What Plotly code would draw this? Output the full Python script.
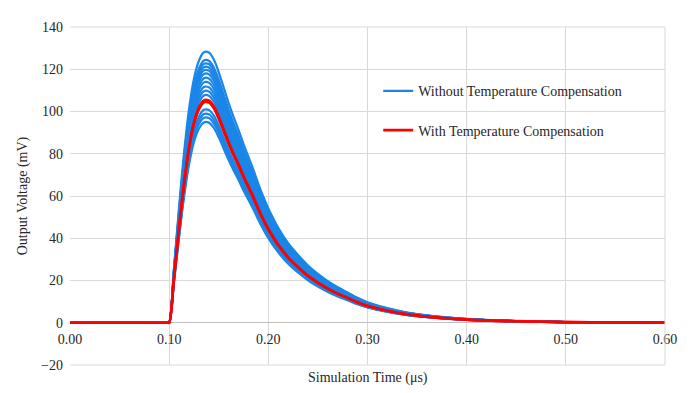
import plotly.graph_objects as go

# Time axis (µs)
time_us = [0.000, 0.099, 0.100, 0.105, 0.110, 0.115, 0.120, 0.125, 0.130, 0.135, 0.140,
           0.145, 0.150, 0.155, 0.160, 0.165, 0.170, 0.175, 0.180, 0.185, 0.190,
           0.195, 0.200, 0.210, 0.220, 0.230, 0.240, 0.250, 0.260, 0.270, 0.280,
           0.290, 0.300, 0.320, 0.340, 0.360, 0.380, 0.400, 0.450, 0.500, 0.550, 0.600]

# Pulse read from the compensated (red) curve, peak ~105.5 mV
reference_pulse = [0.0, 0.0, 0.0, 22.0, 45.0, 66.0, 83.0, 95.0, 102.0, 105.3, 105.2,
                   102.5, 97.5, 91.5, 85.5, 80.0, 75.0, 69.5, 64.5, 59.5, 54.0,
                   49.0, 44.5, 37.0, 31.0, 26.4, 22.3, 19.0, 16.2, 13.8, 11.8,
                   9.7, 8.0, 5.7, 4.0, 2.9, 2.1, 1.5, 0.7, 0.3, 0.12, 0.05]
reference_peak = 105.5

# Peak amplitudes (mV)
blue_peaks = [128.3, 124.4, 122.8, 121.2, 119.7, 118.0, 116.0, 114.0, 111.8,
              109.8, 107.8, 104.5, 101.0, 99.0, 97.2, 95.0]
red_peaks = [105.5, 104.6]

legend_names = ["Without Temperature Compensation", "With Temperature Compensation"]
x_ticks = [0.0, 0.1, 0.2, 0.3, 0.4, 0.5, 0.6]
y_ticks = [-20, 0, 20, 40, 60, 80, 100, 120, 140]

BLUE = "#1a86e8"
RED = "#ff0000"
FONT = "Liberation Serif"
TXT = "#262626"

fig = go.Figure()

for i, pk in enumerate(blue_peaks):
    fig.add_trace(go.Scatter(
        x=time_us, y=[v * pk / reference_peak for v in reference_pulse],
        mode="lines", line=dict(color=BLUE, width=2.2, shape="spline", smoothing=1),
        name=legend_names[0], legendgroup="blue", showlegend=(i == 0)))

for i, pk in enumerate(red_peaks):
    fig.add_trace(go.Scatter(
        x=time_us, y=[v * pk / reference_peak for v in reference_pulse],
        mode="lines", line=dict(color=RED, width=2.6, shape="spline", smoothing=1),
        name=legend_names[1], legendgroup="red", showlegend=(i == 0)))

fig.update_layout(
    width=685, height=385,
    margin=dict(l=62, r=28, t=19, b=28),
    paper_bgcolor="white", plot_bgcolor="white",
    font=dict(family=FONT, size=14, color=TXT),
    showlegend=True,
    legend=dict(x=0.518, y=0.857, xanchor="left", yanchor="top",
                bgcolor="rgba(0,0,0,0)", font=dict(family=FONT, size=14, color=TXT),
                tracegroupgap=18, traceorder="grouped"),
    xaxis=dict(range=[0, 0.6], tickvals=x_ticks, tickformat=".2f",
               showgrid=True, gridcolor="#d9d9d9", gridwidth=1,
               zeroline=False, showline=False, anchor="free", position=0.125,
               ticks="", ticklabelstandoff=6,
               tickfont=dict(family=FONT, size=14, color=TXT)),
    yaxis=dict(range=[-20, 140], tickvals=y_ticks,
               showgrid=True, gridcolor="#d9d9d9", gridwidth=1,
               zeroline=True, zerolinecolor="#bfbfbf", zerolinewidth=1.2,
               showline=False, ticks="", ticklabelstandoff=6,
               tickfont=dict(family=FONT, size=14, color=TXT),
               title=dict(text="Output Voltage (mV)", standoff=10,
                          font=dict(family=FONT, size=14, color=TXT))),
    annotations=[dict(text="Simulation Time (μs)", xref="paper", yref="paper",
                      x=0.5, y=0, yshift=-13, xanchor="center", yanchor="middle",
                      showarrow=False, font=dict(family=FONT, size=14, color=TXT))],
    shapes=[dict(type="line", xref="paper", yref="paper", x0=0, x1=1, y0=0, y1=0,
                 line=dict(color="#d9d9d9", width=1)),
            dict(type="line", xref="paper", yref="paper", x0=0, x1=1, y0=1, y1=1,
                 line=dict(color="#d9d9d9", width=1)),
            dict(type="line", xref="paper", yref="paper", x0=1, x1=1, y0=0, y1=1,
                 line=dict(color="#d9d9d9", width=1))],
)

fig.write_html("out.html")
